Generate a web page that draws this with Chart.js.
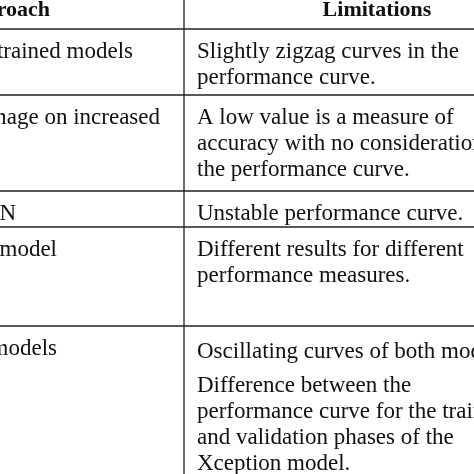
<!DOCTYPE html><html><head><meta charset="utf-8">
<script src="https://cdn.jsdelivr.net/npm/chart.js@4"></script>
<style>html,body{margin:0;padding:0;background:#fff}#w{width:474px;height:474px}</style></head><body>
<div id="w"><canvas id="c" width="474" height="474"></canvas></div>
<script>
const headers = ["Approach", "Limitations"];
const approaches = ["Pretrained models", "Image on increased", "CNN", "Hybrid model", "Ensemble models"];
const limitations = [
  ["Slightly zigzag curves in the", "performance curve."],
  ["A low value is a measure of", "accuracy with no consideration of", "the performance curve."],
  ["Unstable performance curve."],
  ["Different results for different", "performance measures."],
  ["Oscillating curves of both models", "@Difference between the", "performance curve for the training", "and validation phases of the", "Xception model."]
];
const rowLines = [29, 95, 191, 227, 326];
const approachEnd = [133, 160, 16, 57, 57];

const tablePlugin = {
  id: 'table',
  afterDraw(chart) {
    const ctx = chart.ctx;
    ctx.save();
    ctx.fillStyle = '#fff'; ctx.fillRect(0,0,474,474);
    ctx.strokeStyle = '#222'; ctx.lineWidth = 1.3;
    ctx.beginPath(); ctx.moveTo(184,0); ctx.lineTo(184,474); ctx.stroke();
    rowLines.forEach(y => { ctx.beginPath(); ctx.moveTo(0,y); ctx.lineTo(474,y); ctx.stroke(); });
    ctx.fillStyle = '#111';
    ctx.font = 'bold 22px "Liberation Serif"';
    ctx.textBaseline = 'alphabetic';
    ctx.textAlign = 'right'; ctx.fillText(headers[0], 50, 16);
    ctx.textAlign = 'center'; ctx.fillText(headers[1], 377, 16);
    ctx.font = '23px "Liberation Serif"';
    approaches.forEach((a, i) => {
      ctx.textAlign = 'right';
      ctx.fillText(a, approachEnd[i], rowLines[i] + 29);
    });
    limitations.forEach((lines, i) => {
      ctx.textAlign = 'left';
      let y = rowLines[i] + 29 + (i === 4 ? 3 : 0);
      lines.forEach(l => {
        if (l.startsWith('@')) { y += 8; l = l.slice(1); }
        ctx.fillText(l, 197, y);
        y += 26;
      });
    });
    ctx.restore();
  }
};
new Chart(document.getElementById('c'), {
  type: 'bar',
  data: { labels: approaches, datasets: [] },
  options: { responsive: false, animation: false, plugins: { legend: { display: false }, tooltip: { enabled: false } },
    scales: { x: { display: false }, y: { display: false } } },
  plugins: [tablePlugin]
});
</script></body></html>
